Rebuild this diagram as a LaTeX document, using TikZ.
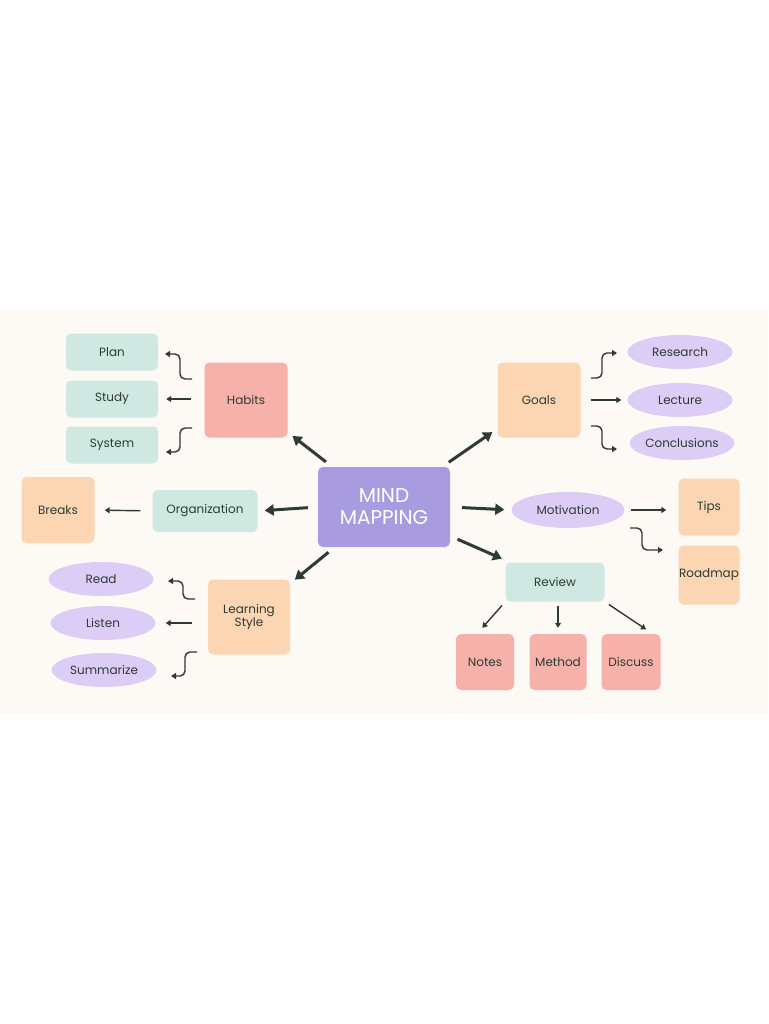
\documentclass[tikz,border=0pt]{standalone}
\usepackage{fontspec}
\setmainfont{Poppins}
\usetikzlibrary{arrows.meta,shapes.geometric}
\definecolor{teal}{HTML}{CFE8E2}
\definecolor{pinkb}{HTML}{F7B1AB}
\definecolor{peach}{HTML}{FCD6B3}
\definecolor{lav}{HTML}{DCCDF7}
\definecolor{purp}{HTML}{A99BE0}
\definecolor{ink}{HTML}{2E3A34}
\definecolor{cream}{HTML}{FDF9F4}
\begin{document}
\begin{tikzpicture}[x=1pt,y=-1pt,
  base/.style={inner sep=0pt,font=\fontsize{12}{13}\selectfont,text=ink,align=center},
  box/.style={base,rectangle,rounded corners=5pt,minimum width=#1},
  tbox/.style={box=92,fill=teal,minimum height=37},
  ell/.style={base,ellipse,fill=lav,minimum width=105,minimum height=34},
  big/.style={-{Triangle[length=9pt,width=11pt]},line width=3pt,draw=ink},
  sm/.style={-{Triangle[length=5pt,width=6pt]},line width=1.4pt,draw=ink,rounded corners=5pt}]
\useasboundingbox (0,0) rectangle (768,1024);
\fill[white] (0,0) rectangle (768,1024);
\fill[cream] (0,310) rectangle (768,715);
% nodes
\node[box=132,fill=purp,minimum height=80,text=white,font=\fontsize{20}{22}\selectfont] (c) at (384,507) {MIND\\MAPPING};
\node[tbox] (plan) at (112,352) {Plan};
\node[tbox] (study) at (112,399) {Study};
\node[tbox] (system) at (112,445) {System};
\node[box=83,fill=pinkb,minimum height=75] (habits) at (246,400) {Habits};
\node[box=73,fill=peach,minimum height=66] (breaks) at (58,510) {Breaks};
\node[box=105,fill=teal,minimum height=42] (org) at (205,511) {Organization};
\node[ell] (read) at (101,579) {Read};
\node[ell] (listen) at (103,623) {Listen};
\node[ell] (summ) at (104,670) {Summarize};
\node[box=82,fill=peach,minimum height=75] (learn) at (249,617) {Learning\\Style};
\node[box=83,fill=peach,minimum height=75] (goals) at (539,400) {Goals};
\node[ell] (res) at (680,352) {Research};
\node[ell] (lec) at (680,400) {Lecture};
\node[ell] (conc) at (682,443) {Conclusions};
\node[ell,minimum width=113,minimum height=36] (mot) at (568,510) {Motivation};
\node[box=61,fill=peach,minimum height=57] (tips) at (709,507) {Tips};
\node[box=61,fill=peach,minimum height=59] (road) at (709,575) {Roadmap};
\node[box=99,fill=teal,minimum height=39] (rev) at (555,582) {Review};
\node[box=58,fill=pinkb,minimum height=56] (notes) at (485,662) {Notes};
\node[box=57,fill=pinkb,minimum height=56] (meth) at (558,662) {Method};
\node[box=59,fill=pinkb,minimum height=56] (disc) at (631,662) {Discuss};
% bend coordinates
\coordinate (p0) at (192,379); \coordinate (p1) at (180,354); \coordinate (p2) at (165,354);
\coordinate (s0) at (192,428); \coordinate (s1) at (180,452); \coordinate (s2) at (166,452);
\coordinate (r0) at (195,599); \coordinate (r1) at (183,581); \coordinate (r2) at (168,581);
\coordinate (u0) at (197,652); \coordinate (u1) at (185,676); \coordinate (u2) at (171,676);
\coordinate (e0) at (591,378); \coordinate (e1) at (602,353); \coordinate (e2) at (617,353);
\coordinate (n0) at (591,426); \coordinate (n1) at (602,449); \coordinate (n2) at (617,449);
\coordinate (m0) at (630,528); \coordinate (m1) at (642,550); \coordinate (m2) at (663,550);
% big arrows
\draw[big,shorten <=8pt,shorten >=6pt] (c) -- (habits);
\draw[big,shorten <=10pt,shorten >=7pt] (c.west) -- (org.east);
\draw[big,shorten <=8pt,shorten >=6pt] (c) -- (learn);
\draw[big,shorten <=8pt,shorten >=6pt] (c) -- (goals);
\draw[big,shorten <=12pt,shorten >=7pt] (c.east) -- (mot.west);
\draw[big,shorten <=8pt,shorten >=9pt] (c) -- (rev);
% small arrows
\draw[sm] (p0) -| (p1) -- (p2);
\draw[sm,shorten <=13pt,shorten >=8pt] (habits.west |- study) -- (study.east);
\draw[sm] (s0) -| (s1) -- (s2);
\draw[sm,shorten <=12pt,shorten >=10pt] (org.west) -- (breaks.east);
\draw[sm] (r0) -| (r1) -- (r2);
\draw[sm,shorten <=16pt,shorten >=10pt] (learn.west |- listen) -- (listen.east);
\draw[sm] (u0) -| (u1) -- (u2);
\draw[sm] (e0) -| (e1) -- (e2);
\draw[sm,shorten <=10pt,shorten >=6pt] (goals.east) -- (goals.east -| lec.west);
\draw[sm] (n0) -| (n1) -- (n2);
\draw[sm,shorten <=6pt,shorten >=12pt] (mot.east) -- (mot.east -| tips.west);
\draw[sm] (m0) -| (m1) -- (m2);
\draw[sm,shorten <=5pt,shorten >=8pt] (rev.south west) -- ([xshift=-8pt]notes.north);
\draw[sm,shorten <=4pt,shorten >=6pt] (rev.south -| meth.north) -- (meth.north);
\draw[sm,shorten <=5pt,shorten >=8pt] (rev.south east) -- ([xshift=-8pt]disc.north east);
\end{tikzpicture}
\end{document}
